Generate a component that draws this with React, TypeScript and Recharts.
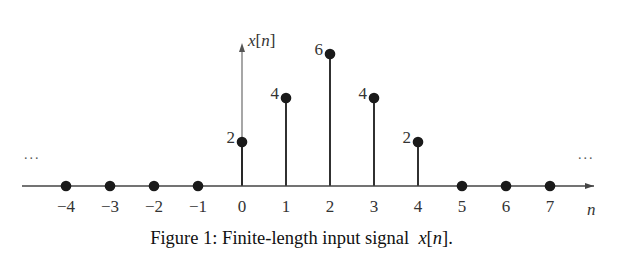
import React from 'react';
import { ComposedChart, Scatter, XAxis, YAxis, ReferenceLine, ReferenceDot } from 'recharts';

const samples = [-4, -3, -2, -1, 0, 1, 2, 3, 4, 5, 6, 7];
const values = [0, 0, 0, 0, 2, 4, 6, 4, 2, 0, 0, 0];
const tickLabels = ['−4', '−3', '−2', '−1', '0', '1', '2', '3', '4', '5', '6', '7'];

const data = samples.map((n, i) => ({ n, v: values[i] }));

const serif = 'Liberation Serif, Times New Roman, serif';
const ink = '#1a1a1a';

const StemDot = (props: any) => {
  const { cx, cy, payload } = props;
  return (
    <g>
      <circle cx={cx} cy={cy} r={5.3} fill={ink} />
      {payload.v !== 0 && (
        <text x={cx - 7} y={cy - 3} textAnchor="end" dominantBaseline="middle" style={{ fontFamily: serif }} fontSize={17} fill="#333">
          {payload.v}
        </text>
      )}
    </g>
  );
};

const NTick = (props: any) => {
  const { x, y, payload } = props;
  const idx = samples.indexOf(payload.value);
  return (
    <text x={x} y={y} dy={18} textAnchor="middle" style={{ fontFamily: serif }} fontSize={17} fill="#333">
      {tickLabels[idx]}
    </text>
  );
};

const ArrowRight = (props: any) => (
  <polygon points={`${props.cx},${props.cy} ${props.cx - 9},${props.cy - 3} ${props.cx - 9},${props.cy + 3}`} fill="#444" />
);

const ArrowUp = (props: any) => (
  <polygon points={`${props.cx},${props.cy} ${props.cx - 3},${props.cy + 9} ${props.cx + 3},${props.cy + 9}`} fill="#555" />
);

export default function App() {
  return (
    <div style={{ position: 'absolute', left: 0, top: 0, width: 621, height: 270, background: '#fff' }}>
      <ComposedChart width={621} height={270} data={data} margin={{ top: 32, right: 27, bottom: 54, left: 22 }}>
        <XAxis
          dataKey="n"
          type="number"
          domain={[-5, 8]}
          ticks={samples}
          tick={<NTick />}
          tickLine={false}
          axisLine={{ stroke: '#444', strokeWidth: 1.3 }}
          height={30}
          allowDataOverflow
        />
        <YAxis type="number" domain={[0, 7]} hide />
        <ReferenceLine segment={[{ x: 0, y: 0 }, { x: 0, y: 6.35 }]} stroke="#777" strokeWidth={1.3} />
        <ReferenceDot x={0} y={6.5} r={0} shape={<ArrowUp />} />
        <ReferenceDot x={8} y={0} r={0} shape={<ArrowRight />} />
        {data
          .filter((d) => d.v !== 0)
          .map((d) => (
            <ReferenceLine key={d.n} segment={[{ x: d.n, y: 0 }, { x: d.n, y: d.v }]} stroke={ink} strokeWidth={1.8} />
          ))}
        <Scatter dataKey="v" shape={<StemDot />} isAnimationActive={false} />
      </ComposedChart>

      <div style={{ position: 'absolute', left: 248, top: 31, fontFamily: serif, fontSize: 17, color: '#333', lineHeight: '20px' }}>
        <i>x</i>[<i>n</i>]
      </div>
      <div style={{ position: 'absolute', left: 587, top: 200, fontFamily: serif, fontSize: 17, color: '#333', lineHeight: '20px' }}>
        <i>n</i>
      </div>
      <div style={{ position: 'absolute', left: 24, top: 147, fontFamily: serif, fontSize: 14, color: '#555', letterSpacing: 2 }}>
        ...
      </div>
      <div style={{ position: 'absolute', left: 578, top: 147, fontFamily: serif, fontSize: 14, color: '#555', letterSpacing: 2 }}>
        ...
      </div>
      <div style={{ position: 'absolute', left: 0, width: 603, top: 227, textAlign: 'center', fontFamily: serif, fontSize: 18.5, color: '#111', lineHeight: '22px' }}>
        Figure 1: Finite-length input signal&nbsp; <i>x</i>[<i>n</i>].
      </div>
    </div>
  );
}
